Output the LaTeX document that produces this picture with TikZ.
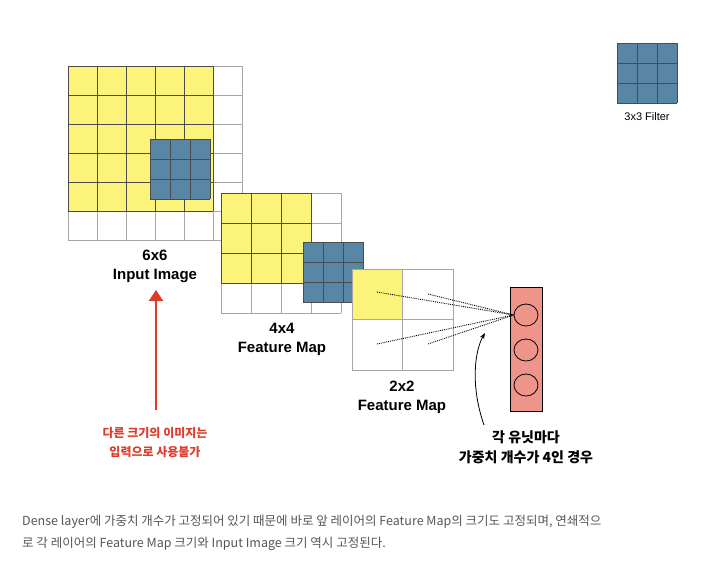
\documentclass[tikz,border=0pt]{standalone}
\usepackage{fontspec}
\setmainfont{Liberation Sans}
\newfontfamily\kr{Noto Sans CJK KR}
\usetikzlibrary{arrows.meta,shapes.geometric}
\definecolor{yel}{HTML}{FCF47A}
\definecolor{blu}{HTML}{5A86A6}
\definecolor{sal}{HTML}{EE9488}
\definecolor{redc}{HTML}{E03A2A}
\definecolor{capc}{HTML}{555555}
\tikzset{lbl/.style={font=\bfseries\fontsize{15}{19}\selectfont,align=center,inner sep=0},
 dot/.style={densely dotted,line width=0.9pt},
 gline/.style={draw=gray!70,line width=0.6pt},
 unit/.style={draw,ellipse,minimum width=24,minimum height=22,inner sep=0,line width=0.8pt}}
\newcommand\mygrid[5]{% x0 y0 n cell style
  \foreach \i in {0,...,#3}{
    \draw[#5] ({#1+\i*#4},#2) -- ({#1+\i*#4},{#2+#3*#4});
    \draw[#5] (#1,{#2+\i*#4}) -- ({#1+#3*#4},{#2+\i*#4});}}
\begin{document}
\begin{tikzpicture}[x=1pt,y=-1pt]
\useasboundingbox (0,0) rectangle (712,563);
% 6x6
\fill[yel] (68,66) rectangle (213,211);
\mygrid{68}{66}{6}{29}{gline}
\mygrid{68}{66}{5}{29}{black!70,line width=0.5pt}
\fill[blu] (150,139) rectangle (210,199);
\mygrid{150}{139}{3}{20}{black!70}
% 4x4
\fill[white] (221,193) rectangle (341,313);
\fill[yel] (221,193) rectangle (311,283);
\mygrid{221}{193}{4}{30}{gline}
\mygrid{221}{193}{3}{30}{black!70,line width=0.5pt}
\fill[blu] (303,242) rectangle (363,302);
\mygrid{303}{242}{3}{20}{black!70}
% 2x2
\fill[white] (352,269) rectangle (453,370);
\fill[yel] (352,269) rectangle (402,319);
\draw[gline] (352,269) rectangle (453,370) (402,269) -- (402,370) (352,319) -- (453,319);
% legend filter
\node[fill=blu,minimum size=60,inner sep=0] (flt) at (647,73) {};
\mygrid{617}{43}{3}{20}{black!70}
\node[font=\fontsize{11}{13}\selectfont] (fltl) at (647,117) {3x3 Filter};
% dense
\node[draw,fill=sal,line width=1pt,minimum width=32,minimum height=124,inner sep=0] (dense) at (526,349) {};
\node[unit] (u1) at (526,315) {};
\node[unit] (u2) at (526,350) {};
\node[unit] (u3) at (526,385) {};
\coordinate (c1) at (377,292); \coordinate (c2) at (428,294);
\coordinate (c3) at (377,344); \coordinate (c4) at (428,344);
\foreach \c in {c1,c2,c3,c4} \draw[dot] (\c) -- (u1.west);
% labels
\node[lbl] (l1) at (155,266) {6x6\\Input Image};
\node[lbl] (l2) at (282,339) {4x4\\Feature Map};
\node[lbl] (l3) at (402,397) {2x2\\Feature Map};
% red arrow
\coordinate (ra) at (156,410);
\coordinate (rb) at (156,290);
\draw[redc,line width=2.5pt,-{Triangle[width=14pt,length=11pt]}] (ra) -- (rb);
\node[text=redc,font=\kr\bfseries\fontsize{12}{19}\selectfont,align=center] (rt) at (155,442) {다른 크기의 이미지는\\입력으로 사용불가};
% black arrow
\coordinate (ba) at (484,425);
\coordinate (bb) at (485,333);
\draw[-{Stealth[length=6pt]},line width=0.8pt] (ba) .. controls (470,385) and (475,350) .. (bb);
\node[font=\kr\bfseries\fontsize{14}{20}\selectfont,align=center] (bt) at (526,447) {각 유닛마다\\가중치 개수가 4인 경우};
% caption
\node[font=\kr\fontsize{12.5}{22}\selectfont,text=capc,align=left,anchor=north west,inner sep=0] (cap) at (22,515) {Dense layer에 가중치 개수가 고정되어 있기 때문에 바로 앞 레이어의 Feature Map의 크기도 고정되며, 연쇄적으\\로 각 레이어의 Feature Map 크기와 Input Image 크기 역시 고정된다.};
\end{tikzpicture}
\end{document}
